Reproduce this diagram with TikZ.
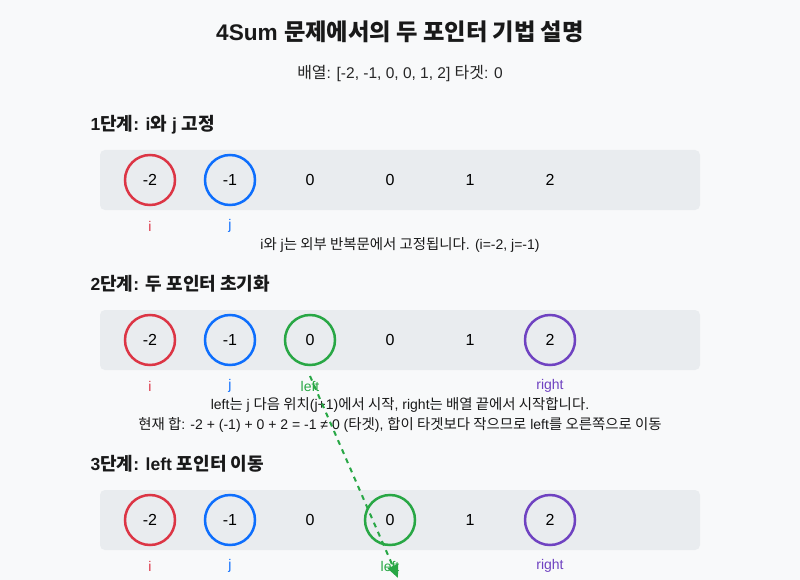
\documentclass[tikz,border=0pt]{standalone}
\usepackage{fontspec}
\setmainfont{Liberation Sans}
\newfontfamily\krfont[Scale=1.03]{Noto Sans CJK KR}
\newcommand\K[1]{{\krfont #1}}
\usetikzlibrary{arrows.meta}
\definecolor{bgc}{HTML}{F8F9FA}
\definecolor{boxc}{HTML}{E9ECEF}
\definecolor{cred}{HTML}{DC3545}
\definecolor{cblue}{HTML}{0D6EFD}
\definecolor{cgreen}{HTML}{28A745}
\definecolor{cpurple}{HTML}{6F42C1}
\tikzset{
  title/.style={font=\fontsize{22.6}{26}\selectfont\bfseries, text=black!90},
  subtitle/.style={font=\fontsize{15.5}{18}\selectfont, text=black!85},
  heading/.style={font=\fontsize{17.5}{20}\selectfont\bfseries, anchor=west, text=black!90},
  desc/.style={font=\fontsize{14}{17}\selectfont, text=black!90},
  arrbox/.style={fill=boxc, rounded corners=5pt, draw=none},
  val/.style={font=\fontsize{16}{19}\selectfont, text=black},
  ptr/.style={circle, minimum size=50pt, inner sep=0pt, line width=2.5pt, draw=#1},
  lab/.style={font=\fontsize{14}{17}\selectfont, text=#1},
}
\begin{document}
\begin{tikzpicture}[x=1pt,y=-1pt]
\fill[bgc] (0,0) rectangle (800,580);
\useasboundingbox (0,0) rectangle (800,580);

\node[title] (t) at (400,32) {4Sum \K{문제에서의 두 포인터 기법 설명}};
\node[subtitle] (st) at (400,74) {\K{배열}: [-2, -1, 0, 0, 1, 2] \K{타겟}: 0};

% Step 1
\node[heading] (h1) at (87,125) {1\K{단계}: i\K{와} j \K{고정}};
\node[arrbox, minimum width=600pt, minimum height=60pt] (b1) at (400,180) {};
\node[ptr=cred] (c11) at (150,180) {};
\node[ptr=cblue] (c12) at (230,180) {};
\node[val] (v11) at (150,180) {-2};
\node[val] (v12) at (230,180) {-1};
\node[val] (v13) at (310,180) {0};
\node[val] (v14) at (390,180) {0};
\node[val] (v15) at (470,180) {1};
\node[val] (v16) at (550,180) {2};
\node[lab=cred] (l11) at (150,226) {i};
\node[lab=cblue] (l12) at (230,226) {j};
\node[desc] (d1) at (400,245) {i\K{와} j\K{는 외부 반복문에서 고정됩니다}. (i=-2, j=-1)};

% Step 2
\node[heading] (h2) at (87,284) {2\K{단계}: \K{두 포인터 초기화}};
\node[arrbox, minimum width=600pt, minimum height=60pt] (b2) at (400,340) {};
\node[ptr=cred] (c21) at (150,340) {};
\node[ptr=cblue] (c22) at (230,340) {};
\node[ptr=cgreen] (c23) at (310,340) {};
\node[ptr=cpurple] (c26) at (550,340) {};
\node[val] (v21) at (150,340) {-2};
\node[val] (v22) at (230,340) {-1};
\node[val] (v23) at (310,340) {0};
\node[val] (v24) at (390,340) {0};
\node[val] (v25) at (470,340) {1};
\node[val] (v26) at (550,340) {2};
\node[lab=cred] (l21) at (150,386) {i};
\node[lab=cblue] (l22) at (230,386) {j};
\node[lab=cgreen] (l23) at (310,386) {left};
\node[lab=cpurple] (l26) at (550,386) {right};
\node[desc] (d2a) at (400,405) {left\K{는} j \K{다음 위치}(j+1)\K{에서 시작}, right\K{는 배열 끝에서 시작합니다}.};
\node[desc] (d2b) at (400,425) {\K{현재 합}: -2 + (-1) + 0 + 2 = -1 ≠ 0 (\K{타겟}), \K{합이 타겟보다 작으므로} left\K{를 오른쪽으로 이동}};

% Step 3
\node[heading] (h3) at (87,464) {3\K{단계}: left \K{포인터 이동}};
\node[arrbox, minimum width=600pt, minimum height=60pt] (b3) at (400,520) {};
\node[ptr=cred] (c31) at (150,520) {};
\node[ptr=cblue] (c32) at (230,520) {};
\node[ptr=cgreen] (c34) at (390,520) {};
\node[ptr=cpurple] (c36) at (550,520) {};
\node[val] (v31) at (150,520) {-2};
\node[val] (v32) at (230,520) {-1};
\node[val] (v33) at (310,520) {0};
\node[val] (v34) at (390,520) {0};
\node[val] (v35) at (470,520) {1};
\node[val] (v36) at (550,520) {2};
\node[lab=cred] (l31) at (150,566) {i};
\node[lab=cblue] (l32) at (230,566) {j};
\node[lab=cgreen] (l34) at (390,566) {left};
\node[lab=cpurple] (l36) at (550,566) {right};

% moving arrow
\coordinate (as) at (310,376);
\coordinate (ae) at (398,578);
\draw[cgreen, line width=2pt, dash pattern=on 5pt off 5pt, -{Triangle[length=13pt,width=11pt]}] (as) -- (ae);
\end{tikzpicture}
\end{document}
